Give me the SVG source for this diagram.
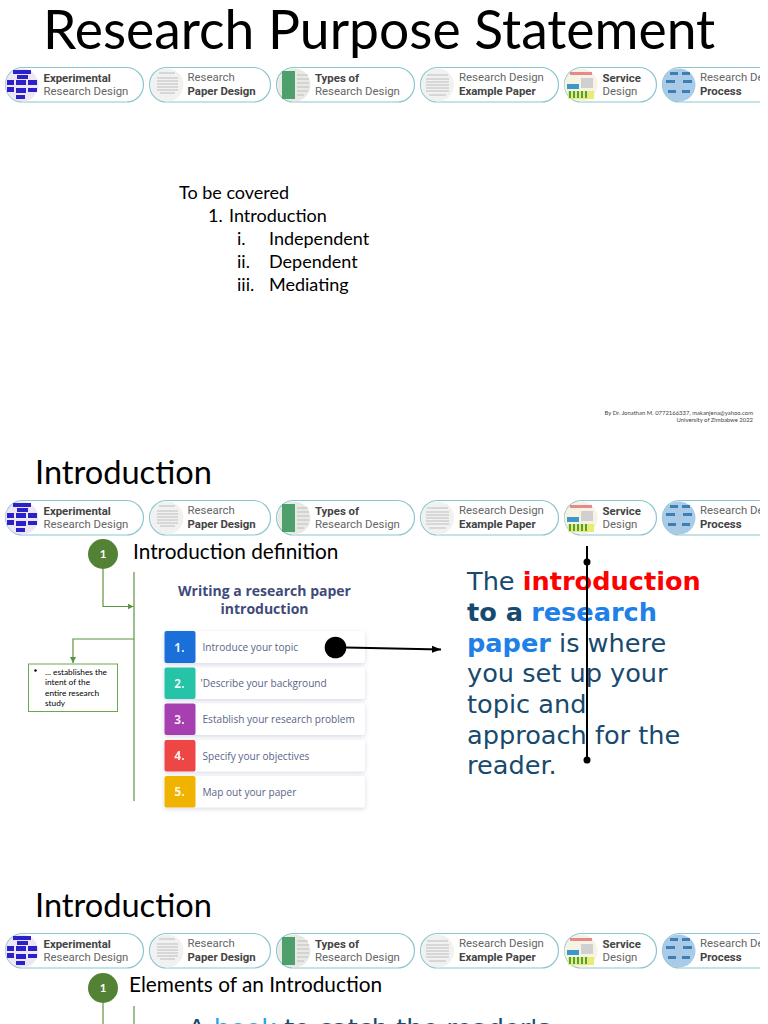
<svg xmlns="http://www.w3.org/2000/svg" xmlns:xlink="http://www.w3.org/1999/xlink" width="768" height="1024" viewBox="0 0 768 1024">
<style>
text{font-family:"Lato","Liberation Sans",sans-serif;fill:#000}
.title{font-size:53.400px}
.h{font-size:32.600px}
.sub{font-size:20.800px}
.li{font-size:18px}
.foot{font-size:5.900px;text-anchor:end;fill:#444}
.pill{fill:#fff;stroke:#8cc6cf;stroke-width:1.2}
.pt{font-family:"Roboto","Liberation Sans",sans-serif;font-size:11.400px;fill:#666}
.pb{font-family:"Roboto","Liberation Sans",sans-serif;font-size:11.400px;font-weight:700;fill:#444}
.gl{fill:none;stroke:#5b9440;stroke-width:1.2}
.num{fill:#548235}
.numt{fill:#fff;font-size:11.500px;font-weight:700;text-anchor:middle}
.body{font-family:"DejaVu Sans","Liberation Sans",sans-serif;font-size:25.600px;fill:#174a6e}
.red{fill:#ff0000;font-weight:700}
.blue{fill:#2080e8;font-weight:700}
.dark{font-weight:700}
.row{fill:#fff;filter:url(#sh)}
.rowt{font-family:"Open Sans","Liberation Sans",sans-serif;font-size:10.100px;fill:#5a6488}
.rown{font-family:"Open Sans","Liberation Sans",sans-serif;font-size:12px;font-weight:700;fill:#fff;text-anchor:middle;opacity:.9}
.ct{font-family:"Open Sans","Liberation Sans",sans-serif;font-size:14px;font-weight:700;fill:#3f4a7c;text-anchor:middle}
.blk{stroke:#000;stroke-width:2;fill:none}
.g1{fill:#c4c4c4}.lines{stroke:#bdbdbd;stroke-width:1;fill:none}
.thumb{filter:url(#soft)}
</style>
<defs>
<clipPath id="page"><rect x="0" y="0" width="760" height="1024"/></clipPath>
<filter id="soft" x="-10%" y="-10%" width="120%" height="120%"><feGaussianBlur stdDeviation=".6"/></filter>
<filter id="sh" x="-10%" y="-30%" width="120%" height="170%"><feDropShadow dx="0" dy="1.5" stdDeviation="2" flood-color="#8890b0" flood-opacity=".35"/></filter>
<marker id="ga" markerWidth="7" markerHeight="6" refX="6" refY="3" orient="auto" markerUnits="userSpaceOnUse"><path d="M0 0L6 3L0 6Z" fill="#5b9440"/></marker>
<marker id="ba" markerWidth="10" markerHeight="8" refX="9" refY="4" orient="auto" markerUnits="userSpaceOnUse"><path d="M0 .5L9 4L0 7.500Z" fill="#000"/></marker>
<g id="nav" clip-path="url(#page)">
<g>
<rect class="pill" x="5.500" y="67.500" width="138" height="34.500" rx="17.200"/>
<g class="thumb">
<circle cx="22" cy="85" r="16.500" fill="#efe6f4"/>
<rect x="13" y="70" width="18" height="4" fill="#2a22c8"/><rect x="17" y="75" width="11" height="4" fill="#2a22c8"/>
<rect x="7" y="80" width="7" height="5" fill="#2a22c8"/><rect x="16" y="80" width="10" height="5" fill="#2a22c8"/><rect x="28" y="80" width="9" height="5" fill="#2a22c8"/>
<rect x="7" y="87" width="7" height="5" fill="#2a22c8"/><rect x="16" y="88" width="10" height="5" fill="#2a22c8"/><rect x="28" y="88" width="9" height="4" fill="#2a22c8"/>
<rect x="16" y="95" width="9" height="4" fill="#2a22c8"/>
</g>
<text class="pb" x="43.500" y="82">Experimental</text><text class="pt" x="43.500" y="95">Research Design</text>
</g>
<g>
<rect class="pill" x="149.500" y="67.500" width="121" height="34.500" rx="17.200"/>
<g class="thumb">
<circle cx="167" cy="85" r="16.500" fill="#f1f1f1"/>
<path class="lines" d="M159 73H175M157 78H178M157 81H178M157 84H178M157 87H178M157 90H178M160 93H175"/>
</g>
<text class="pt" x="187.500" y="81">Research</text><text class="pb" x="187.500" y="95">Paper Design</text>
</g>
<g>
<rect class="pill" x="276.500" y="67.500" width="138" height="34.500" rx="17.200"/>
<g class="thumb">
<circle cx="294" cy="85" r="16.500" fill="#e9e9e4"/>
<rect x="282" y="71" width="13" height="28" fill="#4d9f6c"/>
<path class="lines" d="M297 75H308M297 79H309M297 83H309M297 87H309M297 91H308M297 95H304"/>
</g>
<text class="pb" x="315" y="82">Types of</text><text class="pt" x="315" y="95">Research Design</text>
</g>
<g>
<rect class="pill" x="420.500" y="67.500" width="138" height="34.500" rx="17.200"/>
<g class="thumb">
<circle cx="437.500" cy="85" r="16.500" fill="#f1f1f1"/>
<path class="lines" d="M427 75H448M426 79H449M426 82H449M426 85H449M426 88H449M426 91H449M429 95H446"/>
</g>
<text class="pt" x="459" y="81">Research Design</text><text class="pb" x="459" y="95">Example Paper</text>
</g>
<g>
<rect class="pill" x="564.500" y="67.500" width="92" height="34.500" rx="17.200"/>
<g class="thumb">
<circle cx="581" cy="85" r="16.500" fill="#f6f2e4"/>
<rect x="570" y="72" width="22" height="3" fill="#e48a8a"/><rect x="567" y="84" width="12" height="5" fill="#3b98c8"/><rect x="581" y="78" width="12" height="10" fill="#d0d0d0"/>
<rect x="568" y="91" width="26" height="8" fill="#e9ec70"/><path d="M570 91v7M574 91v7M578 91v7M582 91v7M586 91v7" stroke="#4d9f4c" stroke-width="2"/>
</g>
<text class="pb" x="602.500" y="82">Service</text><text class="pt" x="602.500" y="95">Design</text>
</g>
<g>
<rect class="pill" x="662.500" y="67.500" width="140" height="34.500" rx="17.200"/>
<g class="thumb">
<circle cx="679" cy="85" r="16.500" fill="#a9cbe8"/>
<rect x="670" y="72" width="8" height="3" fill="#3a7fb5"/><rect x="682" y="72" width="8" height="3" fill="#3a7fb5"/><rect x="666" y="80" width="9" height="3" fill="#3a7fb5"/><rect x="683" y="80" width="9" height="3" fill="#3a7fb5"/><rect x="668" y="90" width="8" height="3" fill="#3a7fb5"/><rect x="682" y="90" width="8" height="3" fill="#3a7fb5"/>
</g>
<text class="pt" x="700" y="81">Research Design</text><text class="pb" x="700" y="95">Process</text>
</g>
</g>
</defs>

<g id="slide1">
<text class="title" x="43" y="49">Research Purpose Statement</text>
<use xlink:href="#nav" href="#nav"/>
<g id="outline">
<text class="li" x="179" y="199">To be covered</text>
<text class="li" x="208" y="222">1.</text><text class="li" x="229" y="222">Introduction</text>
<text class="li" x="237" y="245">i.</text><text class="li" x="269" y="245">Independent</text>
<text class="li" x="237" y="268">ii.</text><text class="li" x="269" y="268">Dependent</text>
<text class="li" x="237" y="291">iii.</text><text class="li" x="269" y="291">Mediating</text>
</g>
<text class="foot" x="753" y="414.500">By Dr. Jonathan M. 0772166337,  makanjena@yahoo.com</text>
<text class="foot" x="753" y="422">University of Zimbabwe 2022</text>
</g>

<g id="slide2">
<text class="h" x="35" y="484">Introduction</text>
<use xlink:href="#nav" href="#nav" y="433"/>
<g id="node-definition">
<circle class="num" cx="103" cy="554" r="15"/>
<text class="numt" x="103" y="558">1</text>
<text class="sub" x="133" y="559">Introduction definition</text>
</g>
<g id="node-intent">
<rect x="28.500" y="664" width="89" height="47.500" fill="#fff" stroke="#6aa84f" stroke-width="1"/>
<circle cx="35.500" cy="670.500" r="1.200" fill="#000"/>
<text x="45" y="675" font-size="8.300">... establishes the</text>
<text x="45" y="685" font-size="8.300">intent of the</text>
<text x="45" y="696" font-size="8.300">entire research</text>
<text x="45" y="706" font-size="8.300">study</text>
</g>
<g id="node-card">
<text class="ct" x="264.500" y="596">Writing a research paper</text>
<text class="ct" x="264.500" y="614">introduction</text>
<rect class="row" x="164.500" y="631" width="200.500" height="32" rx="2"/>
<rect x="164.500" y="631" width="31" height="32" rx="2" fill="#1a6fd8"/>
<text class="rown" x="179.500" y="652">1.</text><text class="rowt" x="202.500" y="651">Introduce your topic</text>
<rect class="row" x="164.500" y="667.500" width="200.500" height="31.500" rx="2"/>
<rect x="164.500" y="667.500" width="31" height="31.500" rx="2" fill="#25c4a8"/>
<text class="rown" x="179.500" y="688">2.</text><text class="rowt" x="200.500" y="687">'Describe your background</text>
<rect class="row" x="164.500" y="703.500" width="200.500" height="31.500" rx="2"/>
<rect x="164.500" y="703.500" width="31" height="31.500" rx="2" fill="#a63fb0"/>
<text class="rown" x="179.500" y="724">3.</text><text class="rowt" x="202.500" y="723">Establish your research problem</text>
<rect class="row" x="164.500" y="740" width="200.500" height="31.500" rx="2"/>
<rect x="164.500" y="740" width="31" height="31.500" rx="2" fill="#ee4545"/>
<text class="rown" x="179.500" y="760">4.</text><text class="rowt" x="202.500" y="760">Specify your objectives</text>
<rect class="row" x="164.500" y="776" width="200.500" height="31.500" rx="2"/>
<rect x="164.500" y="776" width="31" height="31.500" rx="2" fill="#f0b400"/>
<text class="rown" x="179.500" y="796">5.</text><text class="rowt" x="202.500" y="796">Map out your paper</text>
</g>
<g id="node-text">
<text class="body" x="467" y="589.500">The <tspan class="red">introduction</tspan></text>
<text class="body" x="467" y="620.500"><tspan class="dark">to a</tspan> <tspan class="blue">research</tspan></text>
<text class="body" x="467" y="651.500"><tspan class="blue">paper</tspan> is where</text>
<text class="body" x="467" y="682">you set up your</text>
<text class="body" x="467" y="713">topic and</text>
<text class="body" x="467" y="743.500">approach for the</text>
<text class="body" x="467" y="774">reader.</text>
</g>
<g id="connectors2">
<path class="gl" d="M134 572V801"/>
<path class="gl" d="M103 569V606.500H133.500" marker-end="url(#ga)"/>
<path class="gl" d="M134 639H73V663" marker-end="url(#ga)"/>
<circle cx="335.500" cy="647.500" r="10.800" fill="#000"/>
<path d="M346 647.500L441 649.500" stroke="#000" stroke-width="2" fill="none" marker-end="url(#ba)"/>
<path class="blk" d="M587 546V760"/>
<circle cx="587" cy="562" r="3.500" fill="#000"/>
<circle cx="587" cy="760" r="3.500" fill="#000"/>
</g>
</g>

<g id="slide3">
<text class="h" x="35" y="917">Introduction</text>
<use xlink:href="#nav" href="#nav" y="866"/>
<g id="connectors3">
<path class="gl" d="M103 1003V1024"/>
<path class="gl" d="M134 1006V1024"/>
</g>
<g id="node-elements">
<circle class="num" cx="103" cy="988" r="15"/>
<text class="numt" x="103" y="992">1</text>
<text class="sub" x="129" y="992">Elements of an Introduction</text>
</g>
<text class="body" x="188" y="1037">A <tspan fill="#1ea7e8">hook</tspan> to catch the reader's</text>
</g>
</svg>
